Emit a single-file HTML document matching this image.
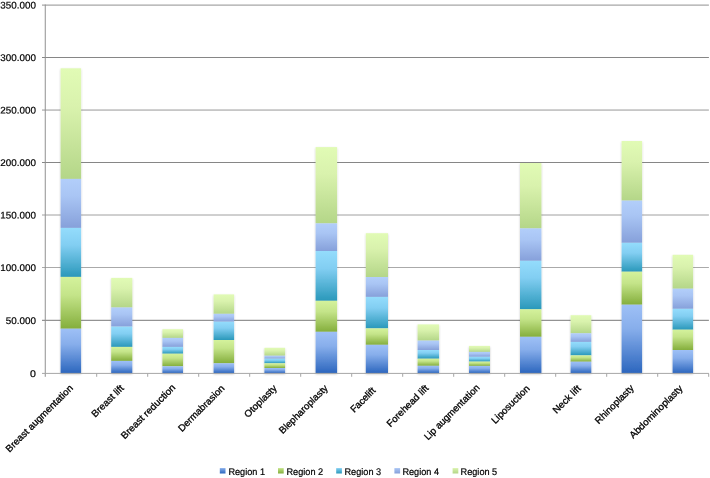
<!DOCTYPE html>
<html lang="en"><head><meta charset="utf-8"><title>Procedures by region</title>
<style>html,body{margin:0;padding:0;background:#fff}svg{display:block}text{font-family:"Liberation Sans",sans-serif;font-size:9.6px;fill:#000;stroke:#000;stroke-width:0.3px}text.h{stroke-width:0.2px}</style></head><body>
<svg width="710" height="478" viewBox="0 0 710 478">
<defs>
<linearGradient id="g5" x1="0" y1="0" x2="0" y2="1"><stop offset="0" stop-color="#E1FBB5"/><stop offset="0.35" stop-color="#D9F2AD"/><stop offset="1" stop-color="#B4D688"/></linearGradient>
<linearGradient id="g4" x1="0" y1="0" x2="0" y2="1"><stop offset="0" stop-color="#B2CEFA"/><stop offset="0.35" stop-color="#A9C5F4"/><stop offset="1" stop-color="#86A0DA"/></linearGradient>
<linearGradient id="g3" x1="0" y1="0" x2="0" y2="1"><stop offset="0" stop-color="#94DCFC"/><stop offset="0.35" stop-color="#82CEF2"/><stop offset="1" stop-color="#2A98BA"/></linearGradient>
<linearGradient id="g2" x1="0" y1="0" x2="0" y2="1"><stop offset="0" stop-color="#D4F29C"/><stop offset="0.35" stop-color="#C4E489"/><stop offset="1" stop-color="#84AE3C"/></linearGradient>
<linearGradient id="g1" x1="0" y1="0" x2="0" y2="1"><stop offset="0" stop-color="#9EC0F6"/><stop offset="0.35" stop-color="#87AEEB"/><stop offset="1" stop-color="#2C66BE"/></linearGradient>
<linearGradient id="l5" x1="0" y1="0" x2="0" y2="1"><stop offset="0" stop-color="#D9F2AD"/><stop offset="1" stop-color="#B4D688"/></linearGradient>
<linearGradient id="l4" x1="0" y1="0" x2="0" y2="1"><stop offset="0" stop-color="#A9C5F4"/><stop offset="1" stop-color="#86A0DA"/></linearGradient>
<linearGradient id="l3" x1="0" y1="0" x2="0" y2="1"><stop offset="0" stop-color="#82CEF2"/><stop offset="1" stop-color="#2A98BA"/></linearGradient>
<linearGradient id="l2" x1="0" y1="0" x2="0" y2="1"><stop offset="0" stop-color="#C4E489"/><stop offset="1" stop-color="#84AE3C"/></linearGradient>
<linearGradient id="l1" x1="0" y1="0" x2="0" y2="1"><stop offset="0" stop-color="#87AEEB"/><stop offset="1" stop-color="#2C66BE"/></linearGradient>
<filter id="sh" x="-20%" y="-5%" width="150%" height="115%"><feGaussianBlur in="SourceAlpha" stdDeviation="0.8"/><feOffset dx="0.4" dy="0.9"/><feComponentTransfer><feFuncA type="linear" slope="0.22"/></feComponentTransfer><feMerge><feMergeNode/><feMergeNode in="SourceGraphic"/></feMerge></filter>
</defs>
<rect width="710" height="478" fill="#fff"/>
<path d="M42.00 5.10H708.90" stroke="#909090" stroke-width="1" fill="none"/>
<path d="M42.00 57.50H708.90" stroke="#868686" stroke-width="1" fill="none"/>
<path d="M42.00 110.05H708.90" stroke="#989898" stroke-width="1" fill="none"/>
<path d="M42.00 162.50H708.90" stroke="#868686" stroke-width="1" fill="none"/>
<path d="M42.00 215.00H708.90" stroke="#a0a0a0" stroke-width="1" fill="none"/>
<path d="M42.00 267.50H708.90" stroke="#aaaaaa" stroke-width="1" fill="none"/>
<path d="M42.00 320.30H708.90" stroke="#787878" stroke-width="1" fill="none"/>
<g filter="url(#sh)">
<rect x="60.60" y="68.30" width="20.50" height="110.60" fill="url(#g5)"/>
<rect x="60.60" y="178.90" width="20.50" height="49.00" fill="url(#g4)"/>
<rect x="60.60" y="227.90" width="20.50" height="49.00" fill="url(#g3)"/>
<rect x="60.60" y="276.90" width="20.50" height="51.80" fill="url(#g2)"/>
<rect x="60.60" y="328.70" width="20.50" height="44.50" fill="url(#g1)"/>
<rect x="111.20" y="277.90" width="21.10" height="29.60" fill="url(#g5)"/>
<rect x="111.20" y="307.50" width="21.10" height="19.10" fill="url(#g4)"/>
<rect x="111.20" y="326.60" width="21.10" height="20.30" fill="url(#g3)"/>
<rect x="111.20" y="346.90" width="21.10" height="14.00" fill="url(#g2)"/>
<rect x="111.20" y="360.90" width="21.10" height="12.30" fill="url(#g1)"/>
<rect x="162.40" y="329.20" width="20.60" height="8.70" fill="url(#g5)"/>
<rect x="162.40" y="337.90" width="20.60" height="9.00" fill="url(#g4)"/>
<rect x="162.40" y="346.90" width="20.60" height="6.80" fill="url(#g3)"/>
<rect x="162.40" y="353.70" width="20.60" height="12.60" fill="url(#g2)"/>
<rect x="162.40" y="366.30" width="20.60" height="6.90" fill="url(#g1)"/>
<rect x="213.60" y="294.40" width="20.50" height="19.40" fill="url(#g5)"/>
<rect x="213.60" y="313.80" width="20.50" height="7.90" fill="url(#g4)"/>
<rect x="213.60" y="321.70" width="20.50" height="18.30" fill="url(#g3)"/>
<rect x="213.60" y="340.00" width="20.50" height="23.30" fill="url(#g2)"/>
<rect x="213.60" y="363.30" width="20.50" height="9.90" fill="url(#g1)"/>
<rect x="264.40" y="347.80" width="20.70" height="7.90" fill="url(#g5)"/>
<rect x="264.40" y="355.70" width="20.70" height="3.00" fill="url(#g4)"/>
<rect x="264.40" y="358.70" width="20.70" height="4.60" fill="url(#g3)"/>
<rect x="264.40" y="363.30" width="20.70" height="4.70" fill="url(#g2)"/>
<rect x="264.40" y="368.00" width="20.70" height="5.20" fill="url(#g1)"/>
<rect x="315.60" y="147.10" width="21.50" height="76.30" fill="url(#g5)"/>
<rect x="315.60" y="223.40" width="21.50" height="27.60" fill="url(#g4)"/>
<rect x="315.60" y="251.00" width="21.50" height="49.80" fill="url(#g3)"/>
<rect x="315.60" y="300.80" width="21.50" height="31.00" fill="url(#g2)"/>
<rect x="315.60" y="331.80" width="21.50" height="41.40" fill="url(#g1)"/>
<rect x="365.80" y="233.20" width="22.20" height="43.80" fill="url(#g5)"/>
<rect x="365.80" y="277.00" width="22.20" height="19.90" fill="url(#g4)"/>
<rect x="365.80" y="296.90" width="22.20" height="31.50" fill="url(#g3)"/>
<rect x="365.80" y="328.40" width="22.20" height="16.40" fill="url(#g2)"/>
<rect x="365.80" y="344.80" width="22.20" height="28.40" fill="url(#g1)"/>
<rect x="417.60" y="324.40" width="21.50" height="16.20" fill="url(#g5)"/>
<rect x="417.60" y="340.60" width="21.50" height="9.40" fill="url(#g4)"/>
<rect x="417.60" y="350.00" width="21.50" height="8.70" fill="url(#g3)"/>
<rect x="417.60" y="358.70" width="21.50" height="7.10" fill="url(#g2)"/>
<rect x="417.60" y="365.80" width="21.50" height="7.40" fill="url(#g1)"/>
<rect x="469.00" y="345.90" width="21.00" height="6.00" fill="url(#g5)"/>
<rect x="469.00" y="351.90" width="21.00" height="4.90" fill="url(#g4)"/>
<rect x="469.00" y="356.80" width="21.00" height="4.80" fill="url(#g3)"/>
<rect x="469.00" y="361.60" width="21.00" height="4.30" fill="url(#g2)"/>
<rect x="469.00" y="365.90" width="21.00" height="7.30" fill="url(#g1)"/>
<rect x="520.00" y="163.00" width="21.40" height="65.40" fill="url(#g5)"/>
<rect x="520.00" y="228.40" width="21.40" height="32.40" fill="url(#g4)"/>
<rect x="520.00" y="260.80" width="21.40" height="48.50" fill="url(#g3)"/>
<rect x="520.00" y="309.30" width="21.40" height="27.50" fill="url(#g2)"/>
<rect x="520.00" y="336.80" width="21.40" height="36.40" fill="url(#g1)"/>
<rect x="570.60" y="315.20" width="20.70" height="18.10" fill="url(#g5)"/>
<rect x="570.60" y="333.30" width="20.70" height="8.60" fill="url(#g4)"/>
<rect x="570.60" y="341.90" width="20.70" height="13.50" fill="url(#g3)"/>
<rect x="570.60" y="355.40" width="20.70" height="6.30" fill="url(#g2)"/>
<rect x="570.60" y="361.70" width="20.70" height="11.50" fill="url(#g1)"/>
<rect x="621.60" y="141.00" width="20.50" height="59.60" fill="url(#g5)"/>
<rect x="621.60" y="200.60" width="20.50" height="42.20" fill="url(#g4)"/>
<rect x="621.60" y="242.80" width="20.50" height="28.90" fill="url(#g3)"/>
<rect x="621.60" y="271.70" width="20.50" height="33.00" fill="url(#g2)"/>
<rect x="621.60" y="304.70" width="20.50" height="68.50" fill="url(#g1)"/>
<rect x="672.60" y="254.80" width="20.50" height="33.90" fill="url(#g5)"/>
<rect x="672.60" y="288.70" width="20.50" height="20.10" fill="url(#g4)"/>
<rect x="672.60" y="308.80" width="20.50" height="20.90" fill="url(#g3)"/>
<rect x="672.60" y="329.70" width="20.50" height="20.30" fill="url(#g2)"/>
<rect x="672.60" y="350.00" width="20.50" height="23.20" fill="url(#g1)"/>
</g>
<path d="M45.25 4.5V376.8" stroke="#909090" stroke-width="1" fill="none"/>
<path d="M42.00 373.40H708.90M96.70 373.50V376.80M147.70 373.50V376.80M198.70 373.50V376.80M249.70 373.50V376.80M300.70 373.50V376.80M351.70 373.50V376.80M402.70 373.50V376.80M453.70 373.50V376.80M504.70 373.50V376.80M555.70 373.50V376.80M606.70 373.50V376.80M657.70 373.50V376.80M708.70 373.50V376.80" stroke="#a6a6a6" stroke-width="1" fill="none"/>
<text class="h" transform="rotate(0.05 35.90 8.60)" x="35.90" y="8.60" text-anchor="end" textLength="35.60" lengthAdjust="spacingAndGlyphs">350.000</text>
<text class="h" transform="rotate(0.05 35.90 61.10)" x="35.90" y="61.10" text-anchor="end" textLength="35.60" lengthAdjust="spacingAndGlyphs">300.000</text>
<text class="h" transform="rotate(0.05 35.90 113.60)" x="35.90" y="113.60" text-anchor="end" textLength="35.60" lengthAdjust="spacingAndGlyphs">250.000</text>
<text class="h" transform="rotate(0.05 35.90 166.10)" x="35.90" y="166.10" text-anchor="end" textLength="35.60" lengthAdjust="spacingAndGlyphs">200.000</text>
<text class="h" transform="rotate(0.05 35.90 218.60)" x="35.90" y="218.60" text-anchor="end" textLength="35.60" lengthAdjust="spacingAndGlyphs">150.000</text>
<text class="h" transform="rotate(0.05 35.90 271.10)" x="35.90" y="271.10" text-anchor="end" textLength="35.60" lengthAdjust="spacingAndGlyphs">100.000</text>
<text class="h" transform="rotate(0.05 35.90 324.10)" x="35.90" y="324.10" text-anchor="end" textLength="30.19" lengthAdjust="spacingAndGlyphs">50.000</text>
<text class="h" transform="rotate(0.05 35.90 377.10)" x="35.90" y="377.10" text-anchor="end" textLength="5.90" lengthAdjust="spacingAndGlyphs">0</text>
<text transform="translate(73.50 388.70) rotate(-45)" x="0" y="0" text-anchor="end" textLength="90.44" lengthAdjust="spacingAndGlyphs">Breast augmentation</text>
<text transform="translate(124.50 388.70) rotate(-45)" x="0" y="0" text-anchor="end" textLength="41.26" lengthAdjust="spacingAndGlyphs">Breast lift</text>
<text transform="translate(176.00 388.20) rotate(-45)" x="0" y="0" text-anchor="end" textLength="72.54" lengthAdjust="spacingAndGlyphs">Breast reduction</text>
<text transform="translate(225.20 388.90) rotate(-45)" x="0" y="0" text-anchor="end" textLength="61.22" lengthAdjust="spacingAndGlyphs">Dermabrasion</text>
<text transform="translate(277.50 388.70) rotate(-45)" x="0" y="0" text-anchor="end" textLength="41.73" lengthAdjust="spacingAndGlyphs">Otoplasty</text>
<text transform="translate(328.50 388.70) rotate(-45)" x="0" y="0" text-anchor="end" textLength="64.60" lengthAdjust="spacingAndGlyphs">Blepharoplasty</text>
<text transform="translate(376.10 391.20) rotate(-45)" x="0" y="0" text-anchor="end" textLength="30.97" lengthAdjust="spacingAndGlyphs">Facelift</text>
<text transform="translate(429.10 388.70) rotate(-45)" x="0" y="0" text-anchor="end" textLength="54.71" lengthAdjust="spacingAndGlyphs">Forehead lift</text>
<text transform="translate(480.30 388.25) rotate(-45)" x="0" y="0" text-anchor="end" textLength="74.07" lengthAdjust="spacingAndGlyphs">Lip augmentation</text>
<text transform="translate(530.30 389.10) rotate(-45)" x="0" y="0" text-anchor="end" textLength="49.57" lengthAdjust="spacingAndGlyphs">Liposuction</text>
<text transform="translate(581.40 389.10) rotate(-45)" x="0" y="0" text-anchor="end" textLength="35.39" lengthAdjust="spacingAndGlyphs">Neck lift</text>
<text transform="translate(634.50 388.70) rotate(-45)" x="0" y="0" text-anchor="end" textLength="50.64" lengthAdjust="spacingAndGlyphs">Rhinoplasty</text>
<text transform="translate(683.30 389.00) rotate(-45)" x="0" y="0" text-anchor="end" textLength="70.75" lengthAdjust="spacingAndGlyphs">Abdominoplasty</text>
<rect x="219.80" y="468.1" width="5.7" height="5.4" fill="url(#l1)"/>
<text class="h" transform="rotate(0.05 228.40 475.1)" x="228.40" y="475.1" textLength="36.6" lengthAdjust="spacingAndGlyphs">Region 1</text>
<rect x="278.00" y="468.1" width="5.7" height="5.4" fill="url(#l2)"/>
<text class="h" transform="rotate(0.05 286.50 475.1)" x="286.50" y="475.1" textLength="36.6" lengthAdjust="spacingAndGlyphs">Region 2</text>
<rect x="336.20" y="468.1" width="5.7" height="5.4" fill="url(#l3)"/>
<text class="h" transform="rotate(0.05 344.50 475.1)" x="344.50" y="475.1" textLength="36.6" lengthAdjust="spacingAndGlyphs">Region 3</text>
<rect x="394.40" y="468.1" width="5.7" height="5.4" fill="url(#l4)"/>
<text class="h" transform="rotate(0.05 402.40 475.1)" x="402.40" y="475.1" textLength="36.6" lengthAdjust="spacingAndGlyphs">Region 4</text>
<rect x="452.60" y="468.1" width="5.7" height="5.4" fill="url(#l5)"/>
<text class="h" transform="rotate(0.05 460.60 475.1)" x="460.60" y="475.1" textLength="36.6" lengthAdjust="spacingAndGlyphs">Region 5</text>
</svg></body></html>
